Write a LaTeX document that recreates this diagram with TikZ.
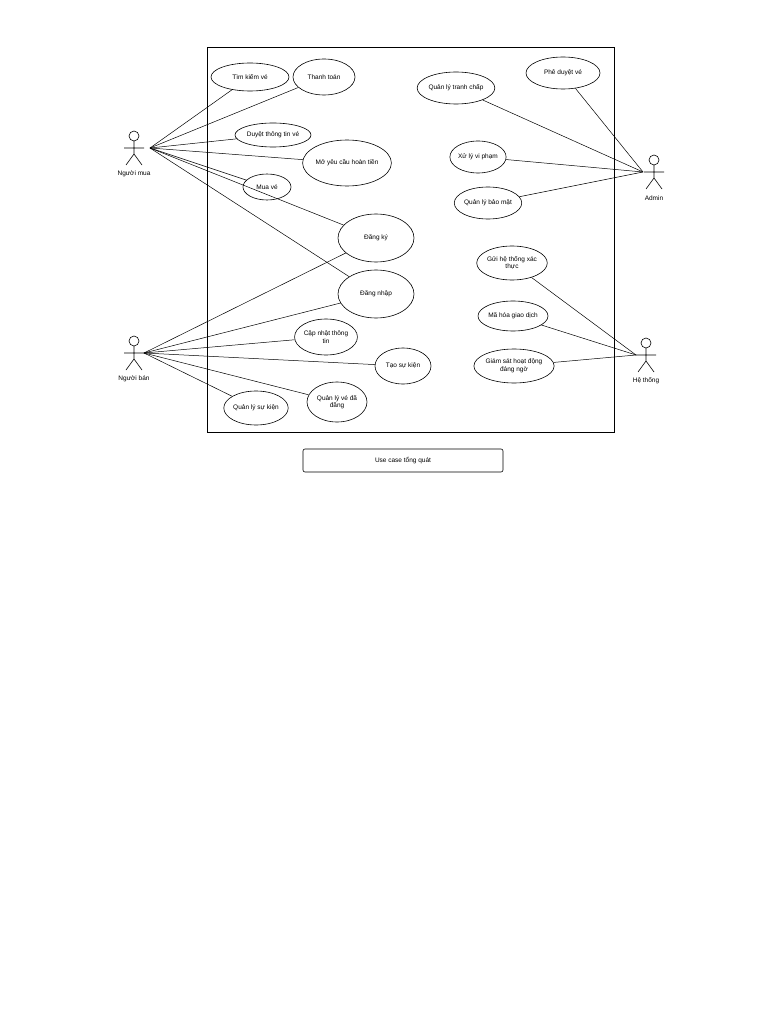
\documentclass[tikz,border=0pt]{standalone}
\usepackage{fontspec}
\setmainfont{Liberation Sans}
\usetikzlibrary{shapes.geometric}
\begin{document}
\begin{tikzpicture}[x=1pt,y=-1pt,
  uc/.style={draw,ellipse,inner sep=0pt,align=center,font=\fontsize{6.5}{7.5}\selectfont,line width=0.6pt},
  lnk/.style={line width=0.5pt},
  lbl/.style={font=\fontsize{6.5}{7.5}\selectfont}]
\useasboundingbox (0,0) rectangle (768,1024);
\fill[white] (0,0) rectangle (768,1024);
\draw[line width=0.8pt] (207,47) rectangle (614,432);
\node[draw,rounded corners=2pt,minimum width=200pt,minimum height=23pt,lbl,line width=0.6pt] (cap) at (403,460.5) {Use case tổng quát};
% actors
\newcommand{\actor}[3]{%
 \draw[line width=0.6pt] (#1,#2-12) circle (5);
 \draw[line width=0.6pt] (#1,#2-7) -- (#1,#2+6) (#1-10,#2) -- (#1+10,#2) (#1-8,#2+17) -- (#1,#2+6) -- (#1+8,#2+17);
 \node[lbl] at (#1,#2+26) {#3};}
\actor{134}{148}{Người mua}
\actor{134}{353}{Người bán}
\actor{654}{172}{Admin}
\actor{646}{355}{Hệ thống}
\coordinate (mua) at (150,148);
\coordinate (ban) at (144,353);
\coordinate (adm) at (643,172);
\coordinate (ht) at (636,355);
\node[uc,minimum width=78pt,minimum height=28pt] (tk) at (250,77) {Tìm kiếm vé};
\node[uc,minimum width=62pt,minimum height=36pt] (tt) at (324,77) {Thanh toán};
\node[uc,minimum width=76pt,minimum height=24pt] (dt) at (273,135) {Duyệt thông tin vé};
\node[uc,minimum width=80pt,minimum height=46pt] (ht2) at (347,163) {Mở yêu cầu hoàn tiền};
\node[uc,minimum width=48pt,minimum height=26pt] (mv) at (267,187) {Mua vé};
\node[uc,minimum width=76pt,minimum height=48pt] (dk) at (376,238) {Đăng ký};
\node[uc,minimum width=76pt,minimum height=48pt] (dn) at (376,294) {Đăng nhập};
\node[uc,minimum width=62pt,minimum height=36pt] (cn) at (326,337) {Cập nhật thông\\tin};
\node[uc,minimum width=56pt,minimum height=36pt] (tsk) at (403,366) {Tạo sự kiện};
\node[uc,minimum width=60pt,minimum height=40pt] (qlv) at (337,402) {Quản lý vé đã\\đăng};
\node[uc,minimum width=62pt,minimum height=34pt] (qls) at (256,408) {Quản lý sự kiện};
\node[uc,minimum width=76pt,minimum height=32pt] (qtc) at (456,88) {Quản lý tranh chấp};
\node[uc,minimum width=74pt,minimum height=32pt] (pd) at (563,73) {Phê duyệt vé};
\node[uc,minimum width=56pt,minimum height=32pt] (xl) at (478,157) {Xử lý vi phạm};
\node[uc,minimum width=62pt,minimum height=32pt] (bm) at (488,203) {Quản lý bảo mật};
\node[uc,minimum width=64pt,minimum height=34pt] (gx) at (512,263) {Gửi hệ thống xác\\thực};
\node[uc,minimum width=68pt,minimum height=30pt] (mh) at (513,316) {Mã hóa giao dịch};
\node[uc,minimum width=68pt,minimum height=34pt] (gs) at (514,366) {Giám sát hoạt động\\đáng ngờ};
\foreach \t in {tk,tt,dt,ht2,mv,dk,dn} \draw[lnk] (mua) -- (\t);
\foreach \t in {dk,dn,cn,tsk,qlv,qls} \draw[lnk] (ban) -- (\t);
\foreach \t in {qtc,pd,xl,bm} \draw[lnk] (adm) -- (\t);
\foreach \t in {gx,mh,gs} \draw[lnk] (ht) -- (\t);
\end{tikzpicture}
\end{document}
